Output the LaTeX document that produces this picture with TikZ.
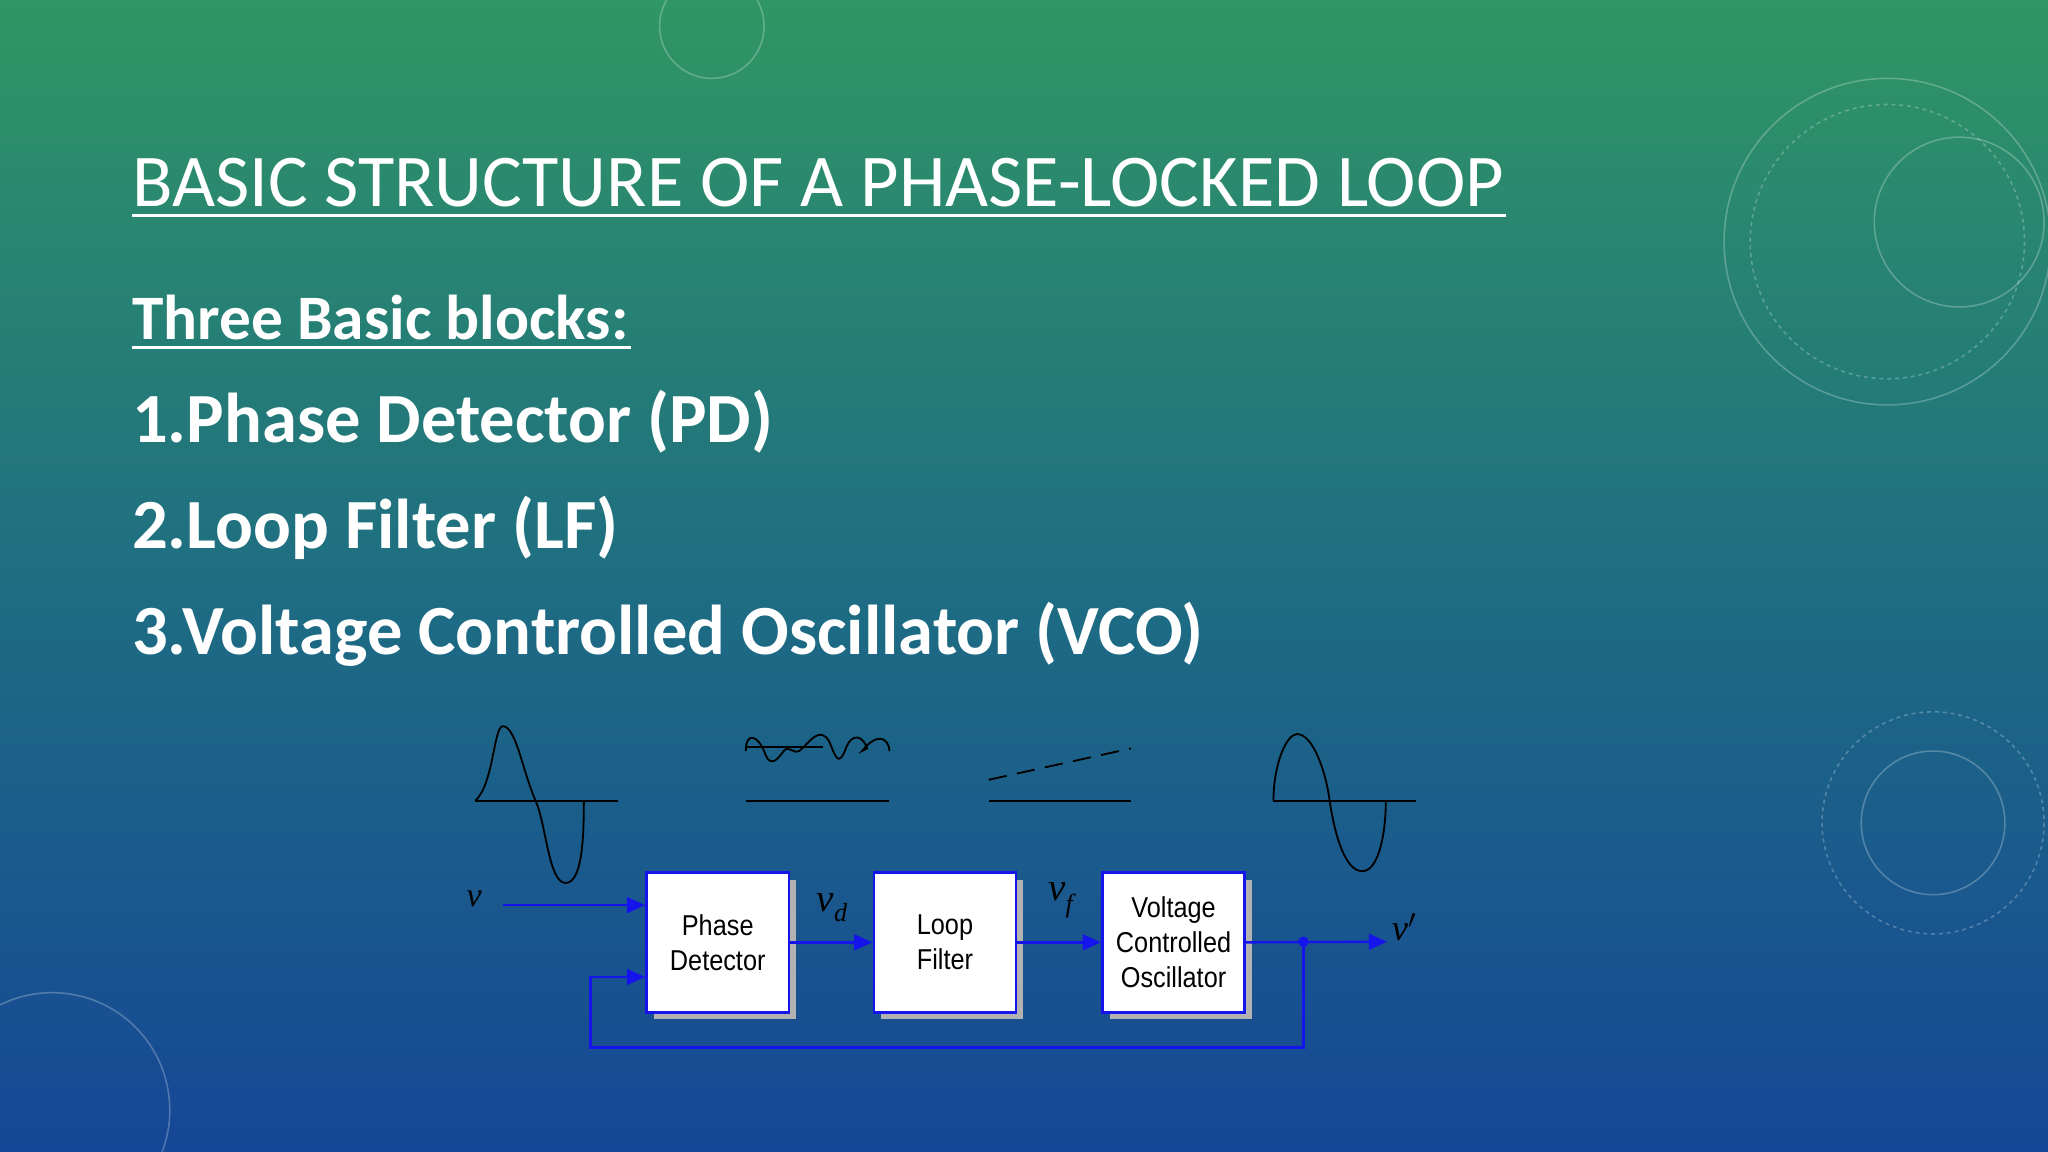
\documentclass[tikz,border=0pt]{standalone}
\usepackage{fontspec}
\setmainfont{Carlito}
\newfontfamily\arialf[FakeStretch=0.88]{Liberation Sans}
\newfontfamily\timesf{Liberation Serif}
\usetikzlibrary{arrows.meta}
\definecolor{topg}{RGB}{48,150,100}
\definecolor{botb}{RGB}{22,70,150}
\definecolor{midc}{RGB}{30,110,130}
\definecolor{lblue}{RGB}{20,20,235}
\tikzset{
  blk/.style={draw=lblue,line width=2pt,fill=white,minimum width=109pt,minimum height=107pt,align=center,font=\arialf\fontsize{22}{27}\selectfont,text=black},
  shad/.style={fill=gray!60,draw=none,minimum width=109pt,minimum height=107pt},
  sig/.style={lblue,line width=1.8pt,-{Triangle[length=14pt,width=12pt]}},
  wav/.style={black,line width=1.4pt},
  deco/.style={white,opacity=0.25,line width=1.2pt}
}
\begin{document}
\begin{tikzpicture}[x=1pt,y=-1pt]
\useasboundingbox (0,0) rectangle (1568,882);
\shade[top color=topg,bottom color=botb,middle color=midc] (0,0) rectangle (1568,882);
% decorative circles
\draw[deco] (1500,170) circle (65);
\draw[deco] (1445,185) circle (125);
\draw[deco,dashed] (1445,185) circle (105);
\draw[deco] (1480,630) circle (55);
\draw[deco,dashed] (1480,630) circle (85);
\draw[deco] (40,850) circle (90);
\draw[deco] (545,20) circle (40);
% title
\node[anchor=base west,text=white,inner sep=0,font=\fontsize{57}{57}\selectfont] (title) at (101,158) {BASIC STRUCTURE OF A PHASE-LOCKED LOOP};
\draw[white,line width=2pt] (101,165) -- (1153,165);
\node[anchor=base west,text=white,inner sep=0,font=\bfseries\fontsize{48.5}{48}\selectfont] (sub) at (101,260) {Three Basic blocks:};
\draw[white,line width=2pt] (101,266) -- (483,266);
\node[anchor=base west,text=white,inner sep=0,font=\bfseries\fontsize{54}{54}\selectfont] (i1) at (101,339) {1.Phase Detector (PD)};
\node[anchor=base west,text=white,inner sep=0,font=\bfseries\fontsize{54}{54}\selectfont] (i2) at (101,420) {2.Loop Filter (LF)};
\node[anchor=base west,text=white,inner sep=0,font=\bfseries\fontsize{54}{54}\selectfont] (i3) at (101,501) {3.Voltage Controlled Oscillator (VCO)};
% shadows
\node[shad] at (555,727) {};
\node[shad] at (729,727) {};
\node[shad] at (904,727) {};
% blocks
\node[blk] (pd) at (549.5,721.5) {Phase\\Detector};
\node[blk] (lf) at (723.5,721.5) {Loop\\Filter};
\node[blk] (vco) at (898.5,721.5) {Voltage\\Controlled\\Oscillator};
% signals
\coordinate (vin) at (385,693);
\coordinate (jn) at (998,721);
\coordinate (vout) at (1062,721);
\draw[sig] (vin) -- (vin -| pd.west);
\draw[sig] (pd.east) -- (lf.west);
\draw[sig] (lf.east) -- (vco.west);
\draw[sig] (vco.east) -- (vout);
\fill[lblue] (jn) circle (4);
\draw[sig] (jn) -- (998,802) -- (452,802) -- (452,748) -- (pd.west |- 0,748);
\node[font=\timesf\itshape\fontsize{26}{26}\selectfont,text=black] (lv) at (363,688) {v};
\node[font=\timesf\itshape\fontsize{30}{30}\selectfont,text=black] (lvd) at (637,695) {v\raisebox{-8pt}{\fontsize{20}{20}\selectfont d}};
\node[font=\timesf\itshape\fontsize{30}{30}\selectfont,text=black] (lvf) at (812,689) {v\raisebox{-9pt}{\fontsize{20}{20}\selectfont f}};
\node[font=\timesf\itshape\fontsize{28}{28}\selectfont,text=black] (lvo) at (1075,710) {v$'$};
% waveforms
\draw[wav] (364,613) -- (473,613);
\draw[wav] (364,613) .. controls (378,600) and (378,556) .. (385,556) .. controls (395,556) and (400,590) .. (410,613)
  .. controls (418,630) and (420,676) .. (433,676) .. controls (446,676) and (447,640) .. (447,613);
\draw[wav] (571,613) -- (681,613);
\draw[wav] (571,572) -- (630,572);
\draw[wav] (571,575) .. controls (571,560) and (580,563) .. (585,575) .. controls (590,590) and (596,580) .. (600,575)
  .. controls (604,570) and (608,578) .. (612,575) .. controls (620,568) and (628,555) .. (635,568)
  .. controls (640,580) and (642,588) .. (648,572) .. controls (652,562) and (660,562) .. (664,573) -- (660,575)
  .. controls (670,562) and (680,563) .. (681,575);
\draw[wav] (757,613) -- (866,613);
\draw[wav,dash pattern=on 14pt off 8pt] (757,597) -- (866,573);
\draw[wav] (975,613) -- (1084,613);
\draw[wav] (975,613) .. controls (975,585) and (985,562) .. (993,562) .. controls (1005,562) and (1015,590) .. (1018,613)
  .. controls (1022,640) and (1030,667) .. (1043,667) .. controls (1055,667) and (1061,640) .. (1061,613);
\end{tikzpicture}
\end{document}
